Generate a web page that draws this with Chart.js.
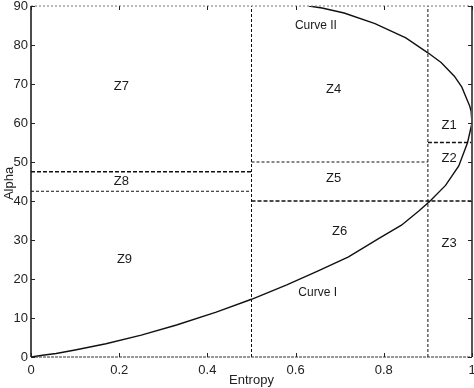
<!DOCTYPE html>
<html>
<head>
<meta charset="utf-8">
<script src="https://cdn.jsdelivr.net/npm/chart.js@4/dist/chart.umd.min.js"></script>
<style>
  html, body { margin: 0; padding: 0; background: #fff; }
  #chart { display: block; }
</style>
</head>
<body>
<canvas id="chart" width="474" height="388"></canvas>
<script>
// boundary curve: Curve I (lower) then Curve II (upper)
var entropy = [0, 0.03, 0.057, 0.1, 0.17, 0.25, 0.33, 0.42, 0.5, 0.58, 0.65, 0.72, 0.79, 0.84, 0.88, 0.905,
               0.94, 0.97, 0.99, 1.0, 0.998, 0.995, 0.985, 0.977, 0.96, 0.93, 0.9, 0.85, 0.78, 0.71, 0.66, 0.63];
var alpha = [0, 0.5, 0.9, 1.8, 3.4, 5.6, 8.2, 11.5, 14.8, 18.5, 22, 25.7, 30.5, 33.8, 37.5, 40,
             44, 49, 55, 60, 63, 64.3, 67, 69.2, 72, 75.5, 78, 81.8, 85.5, 88.2, 89.5, 90];

// zone boundaries [x1, y1, x2, y2]
var thinBounds = [[0.5, 0, 0.5, 90], [0.9, 0, 0.9, 90], [0, 42.5, 0.5, 42.5], [0.5, 50, 0.9, 50]];
var thickBounds = [[0, 47.5, 0.5, 47.5], [0.5, 40, 1, 40], [0.9, 55, 1, 55]];

var zoneNames = ['Z1', 'Z2', 'Z3', 'Z4', 'Z5', 'Z6', 'Z7', 'Z8', 'Z9', 'Curve II', 'Curve I'];
var zoneH = [0.948, 0.948, 0.948, 0.686, 0.686, 0.70, 0.205, 0.205, 0.212, 0.646, 0.65];
var zoneA = [59.5, 50.8, 29.2, 68.7, 45.9, 32.3, 69.5, 45, 25.1, 85, 16.4];

var xTicks = [0, 0.2, 0.4, 0.6, 0.8, 1];
var yTicks = [0, 10, 20, 30, 40, 50, 60, 70, 80, 90];

function segs(list, width, dash) {
  return list.map(function (s) {
    return {
      data: [{ x: s[0], y: s[1] }, { x: s[2], y: s[3] }],
      showLine: true, pointRadius: 0, borderColor: '#111',
      borderWidth: width, borderDash: dash
    };
  });
}

var curve = {
  data: entropy.map(function (h, i) { return { x: h, y: alpha[i] }; }),
  showLine: true, pointRadius: 0, borderColor: '#111', borderWidth: 1.4
};

var family = '"Liberation Sans", Arial, sans-serif';

// frame, inward ticks, y title and zone names
var decor = {
  id: 'decor',
  afterDatasetsDraw: function (chart) {
    var ctx = chart.ctx, a = chart.chartArea;
    var xs = chart.scales.x, ys = chart.scales.y;
    ctx.save();
    ctx.strokeStyle = '#111';
    ctx.lineWidth = 1.5;
    ctx.beginPath(); ctx.moveTo(a.left, a.top); ctx.lineTo(a.left, a.bottom); ctx.stroke();
    ctx.strokeStyle = '#333'; ctx.lineWidth = 1.2;
    ctx.setLineDash([3, 1]);
    ctx.beginPath(); ctx.moveTo(a.left, a.bottom); ctx.lineTo(a.right, a.bottom); ctx.stroke();
    ctx.strokeStyle = '#777'; ctx.lineWidth = 1;
    ctx.setLineDash([2, 2]);
    ctx.beginPath(); ctx.moveTo(a.left, a.top); ctx.lineTo(a.right, a.top); ctx.stroke();
    ctx.setLineDash([]);
    ctx.strokeStyle = '#555'; ctx.lineWidth = 2;
    ctx.beginPath(); ctx.moveTo(a.right, a.top); ctx.lineTo(a.right, a.bottom); ctx.stroke();

    ctx.strokeStyle = '#222'; ctx.lineWidth = 1;
    xTicks.forEach(function (v) {
      var p = Math.round(xs.getPixelForValue(v)) + 0.5;
      ctx.beginPath(); ctx.moveTo(p, a.bottom); ctx.lineTo(p, a.bottom - 4); ctx.stroke();
      ctx.beginPath(); ctx.moveTo(p, a.top); ctx.lineTo(p, a.top + 4); ctx.stroke();
    });
    yTicks.forEach(function (v) {
      var p = Math.round(ys.getPixelForValue(v)) + 0.5;
      ctx.beginPath(); ctx.moveTo(a.left, p); ctx.lineTo(a.left + 4, p); ctx.stroke();
      ctx.beginPath(); ctx.moveTo(a.right, p); ctx.lineTo(a.right - 4, p); ctx.stroke();
    });

    ctx.fillStyle = '#1a1a1a';
    ctx.textAlign = 'center';
    ctx.textBaseline = 'middle';
    zoneNames.forEach(function (t, i) {
      ctx.font = (t.indexOf('Curve') === 0 ? '12px ' : '13px ') + family;
      ctx.fillText(t, xs.getPixelForValue(zoneH[i]), ys.getPixelForValue(zoneA[i]));
    });

    ctx.font = '13px ' + family;
    ctx.fillStyle = '#222';
    ctx.translate(9, (a.top + a.bottom) / 2 + 2);
    ctx.rotate(-Math.PI / 2);
    ctx.fillText('Alpha', 0, 0);
    ctx.restore();
  }
};

var font = { family: family, size: 13 };

new Chart(document.getElementById('chart'), {
  type: 'scatter',
  data: {
    datasets: [curve].concat(segs(thinBounds, 1, [3, 2]), segs(thickBounds, 1.6, [4, 2]))
  },
  options: {
    responsive: false,
    animation: false,
    layout: { padding: { top: 6, right: 2, left: 0, bottom: 0 } },
    plugins: { legend: { display: false }, tooltip: { enabled: false } },
    scales: {
      x: {
        type: 'linear', min: 0, max: 1,
        afterFit: function (s) { s.height = 31; s.paddingLeft = 0; s.paddingRight = 0; },
        afterBuildTicks: function (s) { s.ticks = xTicks.map(function (v) { return { value: v }; }); },
        grid: { display: false, drawTicks: false },
        border: { display: false },
        ticks: { color: '#222', font: font, padding: 6, maxRotation: 0,
                 callback: function (v) { return String(v); } },
        title: { display: true, text: 'Entropy', color: '#222', font: font, padding: { top: 0, bottom: 0 } }
      },
      y: {
        type: 'linear', min: 0, max: 90,
        afterFit: function (s) { s.width = 31; s.paddingTop = 0; s.paddingBottom = 0; },
        afterBuildTicks: function (s) { s.ticks = yTicks.map(function (v) { return { value: v }; }); },
        grid: { display: false, drawTicks: false },
        border: { display: false },
        ticks: { color: '#222', font: font, padding: 3 },
        title: { display: false }
      }
    }
  },
  plugins: [decor]
});
</script>
</body>
</html>
